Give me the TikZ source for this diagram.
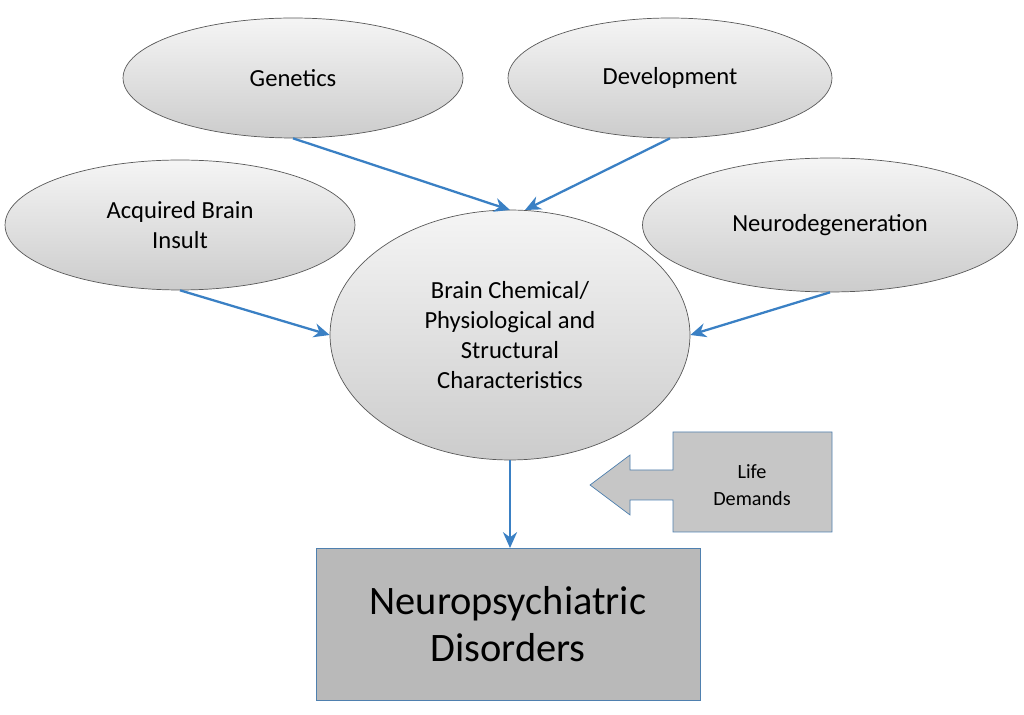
\documentclass[tikz,border=0pt]{standalone}
\usepackage{fontspec}
\setmainfont{Carlito}
\usetikzlibrary{shapes.geometric,arrows.meta}
\definecolor{linkblue}{RGB}{58,128,196}
\tikzset{
  factor/.style={ellipse, draw=gray!70!black, inner sep=0pt, top color=gray!8, bottom color=gray!40, align=center, font=\fontsize{14}{17}\selectfont},
  link/.style={draw=linkblue, line width=1.3pt, -{Stealth[length=9pt,width=8pt]}}
}
\begin{document}
\begin{tikzpicture}[x=0.02cm,y=-0.02cm]
  \useasboundingbox (0,0) rectangle (1024,715);
  \node[factor, minimum width=6.8cm, minimum height=2.4cm] (gen) at (293,78) {Genetics};
  \node[factor, minimum width=6.48cm, minimum height=2.4cm] (dev) at (670,78) {Development};
  \node[factor, minimum width=7cm, minimum height=2.6cm] (acq) at (180,225) {Acquired Brain\\Insult};
  \node[factor, minimum width=7.5cm, minimum height=2.68cm] (neu) at (830,225) {Neurodegeneration};
  \node[factor, minimum width=7.2cm, minimum height=5cm] (brain) at (510,335) {Brain Chemical/\\Physiological and\\Structural\\Characteristics};
  \node[draw=linkblue!70!gray, fill=gray!55, inner sep=0pt, minimum width=7.68cm, minimum height=3.04cm, align=center,
        font=\fontsize{23}{27}\selectfont] (dis) at (508,624) {Neuropsychiatric\\Disorders};
  % life demands callout
  \draw[draw=linkblue!70!gray, fill=gray!45] (673,432) -- (832,432) -- (832,532) -- (673,532) -- (673,500)
    -- (630,500) -- (630,515) -- (590,485) -- (630,455) -- (630,470) -- (673,470) -- cycle;
  \node[align=center, font=\fontsize{11.5}{15}\selectfont] (life) at (752,485) {Life\\Demands};
  \coordinate (gtip) at (510,210);
  \coordinate (dtip) at (525,210);
  \coordinate (btip) at (510,548);
  \draw[link] (gen.south) -- (gtip);
  \draw[link] (dev.south) -- (dtip);
  \draw[link] (acq.south) -- (brain.west);
  \draw[link] (neu.south) -- (brain.east);
  \draw[link] (brain.south) -- (btip);
\end{tikzpicture}
\end{document}
